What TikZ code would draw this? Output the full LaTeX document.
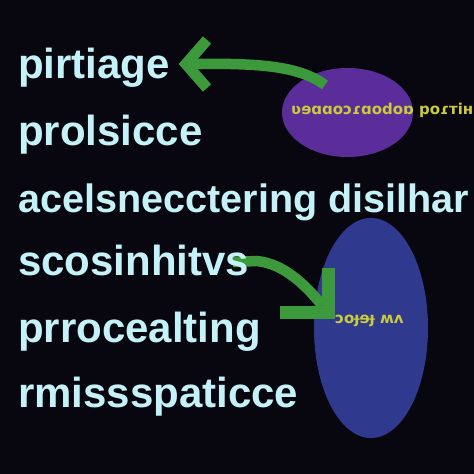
\documentclass[tikz,border=0pt]{standalone}
\usepackage{fontspec}
\setmainfont{Liberation Sans}
\newfontfamily\ipafont{DejaVu Sans}
\usetikzlibrary{shapes.geometric}
\definecolor{bg}{HTML}{08070F}
\definecolor{txt}{HTML}{C4F2F8}
\definecolor{grn}{HTML}{3C9A3C}
\definecolor{purp}{HTML}{5A2D9A}
\definecolor{blu}{HTML}{2F3A8F}
\definecolor{yel}{HTML}{CACC3A}
\begin{document}
\begin{tikzpicture}[x=1pt,y=-1pt,
 word/.style={anchor=base west, inner sep=0pt, text=txt, font=\fontsize{42}{42}\selectfont\bfseries},
 tag/.style={anchor=west, inner sep=0pt, text=yel, font=\ipafont\fontsize{15}{15}\selectfont\bfseries},
 blob/.style={ellipse, inner sep=0pt, draw=none},
 gline/.style={draw=grn, line width=10.5pt},
 ghead/.style={draw=grn, line width=11pt, miter limit=10}]
\fill[bg] (0,0) rectangle (474,474);
\useasboundingbox (0,0) rectangle (474,474);
\clip (0,0) rectangle (474,474);
% ellipses
\node[blob, fill=purp, minimum width=131pt, minimum height=89pt] (pe) at (347.5,112.5) {};
\node[blob, fill=blu, minimum width=114pt, minimum height=220pt] (be) at (371,328) {};
% arrow coordinates
\coordinate (a1s) at (325,85);
\coordinate (a1t) at (186,64);
\coordinate (a1u) at (207,40);
\coordinate (a1d) at (207,88);
\coordinate (a2s) at (233,262);
\coordinate (a2e) at (322,305);
\coordinate (a2v) at (328.5,268);
\coordinate (a2c) at (328.5,312.5);
\coordinate (a2h) at (280,312.5);
% arrow 1: ellipse -> pirtiage
\draw[gline] (a1s) .. controls (298,65) and (255,63) .. (a1t);
\draw[ghead] (a1u) -- (a1t) -- (a1d);
% arrow 2: scosinhitvs -> blue ellipse
\draw[gline] (a2s) -- (257,261) .. controls (285,264) and (306,286) .. (a2e);
\draw[ghead, line width=13pt] (a2v) -- (a2c) -- (a2h);
% words
\node[word] (w1) at (18,78) {pirtiage};
\node[word] (w2) at (18,145) {prolsicce};
\node[word, font=\fontsize{39.6}{40}\selectfont\bfseries] (w3) at (18,212) {acelsnecctering disilhar};
\node[word] (w4) at (18,275) {scosinhitvs};
\node[word] (w5) at (18,342) {prrocealting};
\node[word] (w6) at (18,407) {rmissspaticce};
% yellow labels
\node[tag] (t1) at (291,110) {ʋɘɑɑoɔɾɑodoɒ poɾтiʜ};
\node[tag] (t2) at (335,321) {ɔoɟɘɟ ʍʌ};
\end{tikzpicture}
\end{document}
